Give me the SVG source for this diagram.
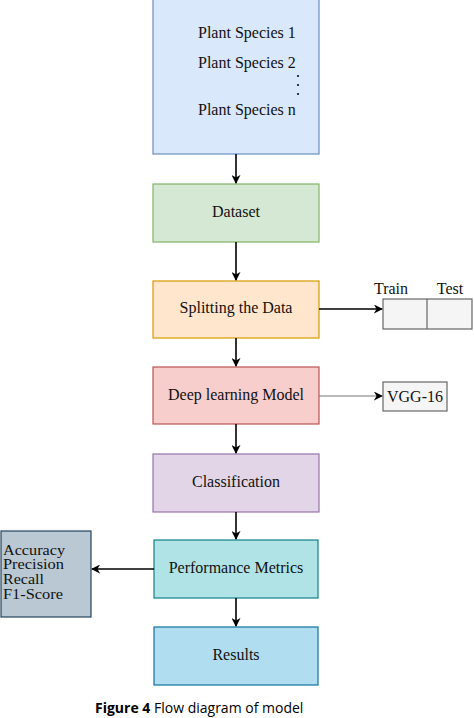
<svg xmlns="http://www.w3.org/2000/svg" width="474" height="718" viewBox="0 0 474 718">
<style>
.t{font-family:"Liberation Serif","Times New Roman",serif;font-size:16px;fill:#111;}
.c{text-anchor:middle;}
.m{font-size:14px;}
.ln{stroke:#000;stroke-width:1.6;fill:none;}
.lg{stroke:#777;stroke-width:1.2;fill:none;}
.cap{font-family:"Open Sans","Liberation Sans",sans-serif;font-size:14px;fill:#000;}
</style>
<defs>
<marker id="ah" viewBox="0 0 10 10" refX="9" refY="5" markerWidth="9" markerHeight="9" orient="auto" markerUnits="userSpaceOnUse">
<path d="M0,0 L10,5 L0,10 L3,5 Z" fill="#000"/>
</marker>
<marker id="ahs" viewBox="0 0 10 10" refX="9" refY="5" markerWidth="9" markerHeight="9" orient="auto" markerUnits="userSpaceOnUse">
<path d="M0,0 L10,5 L0,10 L3,5 Z" fill="#000"/>
</marker>
</defs>
<rect width="474" height="718" fill="#fff"/>
<g id="species">
<rect x="153" y="-2" width="166" height="156" fill="#dae8fc" stroke="#6c8ebf" stroke-width="1.2"/>
<text class="t" x="198" y="38">Plant Species 1</text>
<text class="t" x="198" y="68">Plant Species 2</text>
<circle cx="298" cy="76" r="1.1" fill="#111"/>
<circle cx="298" cy="85" r="1.1" fill="#111"/>
<circle cx="298" cy="94" r="1.1" fill="#111"/>
<text class="t" x="198" y="115">Plant Species n</text>
</g>
<g id="dataset">
<rect x="153" y="184" width="166" height="58" fill="#d5e8d4" stroke="#82b366" stroke-width="1.2"/>
<text class="t c" x="236" y="217">Dataset</text>
</g>
<g id="split">
<rect x="153" y="281" width="166" height="57" fill="#ffe6cc" stroke="#d79b00" stroke-width="1.2"/>
<text class="t c" x="236" y="313">Splitting the Data</text>
</g>
<g id="traintest">
<rect x="383" y="299" width="89" height="30" fill="#f5f5f5" stroke="#666" stroke-width="1.2"/>
<line x1="427" y1="299" x2="427" y2="329" stroke="#666" stroke-width="1.2"/>
<text class="t c" x="391" y="294" font-size="14.5">Train</text>
<text class="t c" x="450" y="294" font-size="14.5">Test</text>
</g>
<g id="dlmodel">
<rect x="153" y="367" width="166" height="57" fill="#f8cecc" stroke="#b85450" stroke-width="1.2"/>
<text class="t c" x="236" y="400">Deep learning Model</text>
</g>
<g id="vgg">
<rect x="383" y="382" width="64" height="29" fill="#f5f5f5" stroke="#666" stroke-width="1.2"/>
<text class="t c" x="415" y="402" font-size="17">VGG-16</text>
</g>
<g id="classification">
<rect x="153" y="454" width="166" height="58" fill="#e1d5e7" stroke="#9673a6" stroke-width="1.2"/>
<text class="t c" x="236" y="487">Classification</text>
</g>
<g id="performance">
<rect x="154" y="540" width="164" height="58" fill="#b0e3e6" stroke="#0e8088" stroke-width="1.2"/>
<text class="t c" x="236" y="573">Performance Metrics</text>
</g>
<g id="metrics">
<rect x="1" y="531" width="90" height="86" fill="#bac8d3" stroke="#23445d" stroke-width="1.2"/>
<text class="t m" x="3" y="555" textLength="62" lengthAdjust="spacingAndGlyphs">Accuracy</text>
<text class="t m" x="3" y="569" textLength="61" lengthAdjust="spacingAndGlyphs">Precision</text>
<text class="t m" x="3" y="584" textLength="41" lengthAdjust="spacingAndGlyphs">Recall</text>
<text class="t m" x="3" y="599" textLength="60" lengthAdjust="spacingAndGlyphs">F1-Score</text>
</g>
<g id="results">
<rect x="154" y="627" width="164" height="58" fill="#b1ddf0" stroke="#10739e" stroke-width="1.2"/>
<text class="t c" x="236" y="660">Results</text>
</g>
<g id="connectors">
<line class="ln" x1="236" y1="154" x2="236" y2="183" marker-end="url(#ah)"/>
<line class="ln" x1="236" y1="242" x2="236" y2="280" marker-end="url(#ah)"/>
<line class="ln" x1="236" y1="338" x2="236" y2="366" marker-end="url(#ah)"/>
<line class="ln" x1="319" y1="309" x2="382" y2="309" marker-end="url(#ahs)"/>
<line class="lg" x1="319" y1="396" x2="382" y2="396" marker-end="url(#ahs)"/>
<line class="ln" x1="236" y1="424" x2="236" y2="453" marker-end="url(#ah)"/>
<line class="ln" x1="236" y1="512" x2="236" y2="539" marker-end="url(#ah)"/>
<line class="ln" x1="154" y1="569" x2="92" y2="569" marker-end="url(#ahs)"/>
<line class="ln" x1="236" y1="598" x2="236" y2="626" marker-end="url(#ah)"/>
</g>
<text class="cap" x="95" y="713"><tspan font-weight="bold">Figure 4</tspan> Flow diagram of model</text>
</svg>
